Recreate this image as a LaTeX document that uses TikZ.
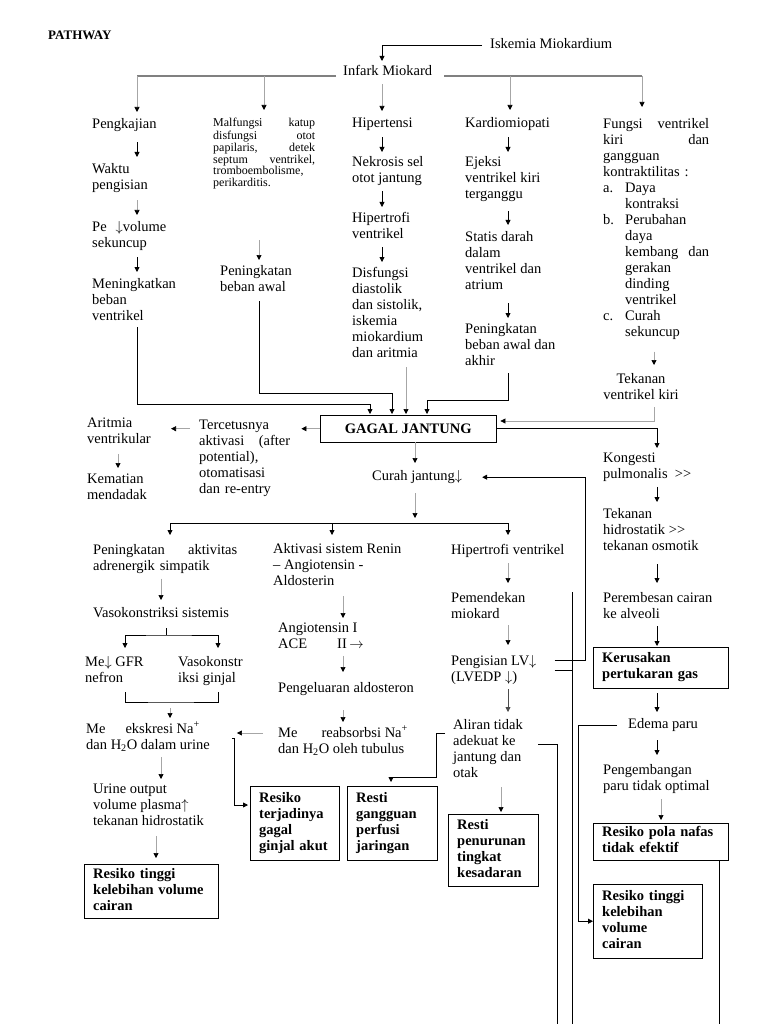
\documentclass[tikz,border=0pt]{standalone}
\usepackage{fontspec}
\setmainfont{Liberation Serif}
\usetikzlibrary{arrows.meta}
\newcommand\spread[3][\hsize]{\leavevmode\hbox to #1{#2\hfill #3}}

\begin{document}
\begin{tikzpicture}[x=1pt,y=-1pt,
	>={Triangle[length=5pt,width=5pt]},
	txt/.style={anchor=north west,inner sep=0pt,align=left,font=\fontsize{14.5}{16}\selectfont,execute at begin node=\strut},
	smalltxt/.style={anchor=north west,inner sep=0pt,align=left,text width=102pt,font=\fontsize{12}{11.7}\selectfont,execute at begin node=\strut},
	diag/.style={draw,anchor=north west,inner xsep=9pt,inner ysep=0pt,align=left,font=\bfseries\fontsize{14.5}{16}\selectfont,execute at begin node=\strut,execute at end node=\strut},
	blk/.style={black,line width=0.8pt,->},
	gry/.style={draw=black!35,line width=0.7pt,-{Triangle[length=5pt,width=5pt,color=black]}},
	wire/.style={black,line width=0.8pt},
	branch/.style={black!50,line width=1.4pt}]
	\useasboundingbox (0,0) rectangle (768,1024);

	% column and junction points
	\coordinate (colA) at (137,0);
	\coordinate (colB) at (264,0);
	\coordinate (colBb) at (259,0);
	\coordinate (colC) at (382,0);
	\coordinate (colD) at (508,0);
	\coordinate (colDt) at (510,0);
	\coordinate (colE) at (642,0);
	\coordinate (colF) at (654,0);
	\coordinate (colG) at (657,0);
	\coordinate (colH) at (118,0);
	\coordinate (colI) at (415,0);
	\coordinate (colJ) at (170,0);
	\coordinate (colK) at (332,0);
	\coordinate (colL) at (585,0);
	\coordinate (colN) at (125,0);
	\coordinate (colO) at (218,0);
	\coordinate (colP) at (234,0);
	\coordinate (colR) at (391,0);
	\coordinate (colS) at (161,0);
	\coordinate (colT) at (156,0);
	\coordinate (colV) at (343,0);
	\coordinate (colW) at (501,0);
	\coordinate (colY) at (661,0);
	\coordinate (colZ) at (578,0);
	\coordinate (gjtop1) at (370,404);
	\coordinate (gjtop2) at (392,393);
	\coordinate (gjtop4) at (427,400);
	\coordinate (gjin3) at (406,0);
	\coordinate (tekin) at (0,421);
	\coordinate (split) at (415,523);
	\coordinate (fork) at (166,635);
	\coordinate (join) at (170,702);
	\coordinate (lvrow) at (0,660);
	\coordinate (ggrow) at (0,805);
	\coordinate (rowR) at (0,733);
	\coordinate (rowA) at (0,733);
	\coordinate (rowB) at (0,744);
	\coordinate (turnQ) at (436,777);
	\coordinate (drainM) at (572,592);
	\coordinate (drainMend) at (572,1024);
	\coordinate (drainS) at (557,1024);
	\coordinate (drainU) at (719,1024);

	% title
	\node[font=\bfseries\fontsize{13}{16}\selectfont,anchor=west,inner sep=0pt] (title) at (48,35) {PATHWAY};
	\node[txt] (iskemia) at (490,37) {Iskemia Miokardium};
	\node[txt] (infark) at (343,64) {Infark Miokard};
	\coordinate (brL) at ([yshift=-4pt]infark.west);
	\coordinate (brR) at ([yshift=-4pt]infark.east);

	% column 1
	\node[txt] (pengkajian) at (92,117) {Pengkajian};
	\node[txt] (waktu) at (92,163) {Waktu\\pengisian};
	\node[txt] (pevol) at (92,221) {Pe\hspace{9pt}$\downarrow$volume\\sekuncup};
	\node[txt] (meningkat) at (92,278) {Meningkatkan\\beban\\ventrikel};
	% column 2
	\node[smalltxt] (malfungsi) at (213,118) {\spread{Malfungsi}{katup}\\\spread{disfungsi}{otot}\\\spread{papilaris,}{detek}\\\spread{septum}{ventrikel,}\\tromboembolisme,\\perikarditis.};
	\node[txt] (pbawal) at (220,265) {Peningkatan\\beban awal};
	% column 3
	\node[txt] (hipertensi) at (352,116) {Hipertensi};
	\node[txt] (nekrosis) at (352,156) {Nekrosis sel\\otot jantung};
	\node[txt] (hipertrofi) at (352,212) {Hipertrofi\\ventrikel};
	\node[txt] (disfungsi) at (352,267) {Disfungsi\\diastolik\\dan sistolik,\\iskemia\\miokardium\\dan aritmia};
	% column 4
	\node[txt] (kardio) at (465,116) {Kardiomiopati};
	\node[txt] (ejeksi) at (465,156) {Ejeksi\\ventrikel kiri\\terganggu};
	\node[txt] (statis) at (465,231) {Statis darah\\dalam\\ventrikel dan\\atrium};
	\node[txt] (pbakhir) at (465,323) {Peningkatan\\beban awal dan\\akhir};
	% column 5
	\node[txt,text width=106pt] (fungsi) at (603,117) {\spread{Fungsi}{ventrikel}\\\spread{kiri}{dan}\\gangguan\\kontraktilitas :\\
		\makebox[22pt][l]{a.}Daya\\\hspace*{22pt}kontraksi\\
		\makebox[22pt][l]{b.}Perubahan\\\hspace*{22pt}daya\\\hspace*{22pt}\spread[84pt]{kembang}{dan}\\\hspace*{22pt}gerakan\\\hspace*{22pt}dinding\\\hspace*{22pt}ventrikel\\
		\makebox[22pt][l]{c.}Curah\\\hspace*{22pt}sekuncup};
	\node[txt,anchor=north,align=center] (tekanan) at (641,373) {Tekanan\\ventrikel kiri};

	% gagal jantung
	\node[draw,anchor=north west,inner sep=0pt,minimum width=176pt,minimum height=27pt,font=\bfseries\fontsize{14.5}{16}\selectfont] (gagal) at (320,415) {GAGAL JANTUNG};
	\node[txt,text width=91pt] (tercetus) at (199,418) {Tercetusnya\\\spread{aktivasi}{(after}\\potential),\\otomatisasi\\dan re-entry};
	\node[txt] (aritmia) at (87,418) {Aritmia\\ventrikular};
	\node[txt] (kematian) at (87,474) {Kematian\\mendadak};
	\node[txt] (curah) at (372,469) {Curah jantung$\downarrow$};

	% right column
	\node[txt] (kongesti) at (603,453) {Kongesti\\pulmonalis\ \ >\kern0pt>};
	\node[txt] (hidro) at (603,508) {Tekanan\\hidrostatik >\kern0pt>\\tekanan osmotik};
	\node[txt] (rembes) at (603,592) {Perembesan cairan\\ke alveoli};
	\node[diag,text width=117pt,minimum height=41pt] (kerusakan) at (593,647) {Kerusakan\\pertukaran gas};
	\node[txt] (edema) at (628,717) {Edema paru};
	\node[txt] (kembang) at (603,764) {Pengembangan\\paru tidak optimal};
	\node[diag,text width=117pt,minimum height=37pt] (pola) at (593,823) {Resiko pola nafas\\tidak efektif};
	\node[diag,text width=91pt,minimum height=74pt] (kelebihanR) at (593,884) {Resiko tinggi\\kelebihan\\volume\\cairan};

	% lower left
	\node[txt,text width=144pt] (adrenergik) at (93,543) {\spread{Peningkatan}{aktivitas}\\adrenergik simpatik};
	\node[txt] (vaso) at (93,606) {Vasokonstriksi sistemis};
	\node[txt] (gfr) at (85,656) {Me$\downarrow$ GFR\\nefron};
	\node[txt] (vasoginjal) at (178,656) {Vasokonstr\\iksi ginjal};
	\node[txt] (ekskresi) at (86,722) {Me\hspace{20pt}ekskresi Na\textsuperscript{+}\\dan H\textsubscript{2}O dalam urine};
	\node[txt] (urine) at (93,784) {Urine output\\volume plasma$\uparrow$\\tekanan hidrostatik};
	\node[diag,text width=116pt,minimum height=54pt] (kelebihanL) at (84,864) {Resiko tinggi\\kelebihan volume\\cairan};
	\node[diag,text width=71pt,minimum height=74pt] (ggal) at (250,786) {Resiko\\terjadinya\\gagal\\ginjal akut};
	\node[diag,text width=72pt,minimum height=74pt] (perfusi) at (347,786) {Resti\\gangguan\\perfusi\\jaringan};
	\node[diag,text width=72pt,minimum height=72pt] (kesadaran) at (448,814) {Resti\\penurunan\\tingkat\\kesadaran};

	% renin column
	\node[txt] (renin) at (273,543) {Aktivasi sistem Renin\\\textendash{} Angiotensin -\\Aldosterin};
	\node[txt] (angio) at (278,623) {Angiotensin I\\ACE\hspace{30pt}II\,$\rightarrow$};
	\node[txt] (aldo) at (278,681) {Pengeluaran aldosteron};
	\node[txt] (reabs) at (278,726) {Me\hspace{24pt}reabsorbsi Na\textsuperscript{+}\\dan H\textsubscript{2}O oleh tubulus};

	% hipertrofi column
	\node[txt] (hipvent) at (451,543) {Hipertrofi ventrikel};
	\node[txt] (pemendekan) at (451,592) {Pemendekan\\miokard};
	\node[txt] (pengisian) at (451,655) {Pengisian LV$\downarrow$\\(LVEDP $\downarrow$)};
	\node[txt] (aliran) at (453,719) {Aliran tidak\\adekuat ke\\jantung dan\\otak};

	% top links
	\draw[wire,->,shorten <=8pt,shorten >=3pt] (iskemia.west) -| (infark.north -| colC);
	\draw[branch,shorten <=7pt] (brL) -- (brL -| colA);
	\draw[branch,shorten <=12pt] (brR) -- (brR -| colE);
	\draw[gry,shorten >=5pt] (brL -| colA) -- (pengkajian.north -| colA);
	\draw[gry,shorten >=8pt] (brL -| colB) -- (malfungsi.north -| colB);
	\draw[gry,shorten <=4pt,shorten >=5pt] (infark.south -| colC) -- (hipertensi.north -| colC);
	\draw[gry,shorten >=6pt] (brR -| colDt) -- (kardio.north -| colDt);
	\draw[gry,shorten >=10pt] (brR -| colE) -- (fungsi.north -| colE);

	% column 1 links
	\draw[blk,shorten <=9pt,shorten >=6pt] (pengkajian.south -| colA) -- (waktu.north -| colA);
	\draw[gry,shorten <=6pt,shorten >=6pt] (waktu.south -| colA) -- (pevol.north -| colA);
	\draw[blk,shorten <=5pt,shorten >=6pt] (pevol.south -| colA) -- (meningkat.north -| colA);
	\draw[blk,shorten <=2pt,shorten >=1pt] (meningkat.south -| colA) |- (gjtop1) -- (gagal.north -| gjtop1);
	% column 2 links
	\draw[gry,shorten <=51pt,shorten >=5pt] (malfungsi.south -| colBb) -- (pbawal.north -| colBb);
	\draw[blk,shorten <=5pt,shorten >=1pt] (pbawal.south -| colBb) |- (gjtop2) -- (gagal.north -| gjtop2);
	% column 3 links
	\draw[blk,shorten <=5pt,shorten >=4pt] (hipertensi.south -| colC) -- (nekrosis.north -| colC);
	\draw[blk,shorten <=4pt,shorten >=5pt] (nekrosis.south -| colC) -- (hipertrofi.north -| colC);
	\draw[blk,shorten <=4pt,shorten >=5pt] (hipertrofi.south -| colC) -- (disfungsi.north -| colC);
	\draw[gry,shorten <=5pt,shorten >=1pt] (disfungsi.south -| gjin3) -- (gagal.north -| gjin3);
	% column 4 links
	\draw[blk,shorten <=5pt,shorten >=4pt] (kardio.south -| colD) -- (ejeksi.north -| colD);
	\draw[blk,shorten <=8pt,shorten >=6pt] (ejeksi.south -| colD) -- (statis.north -| colD);
	\draw[blk,shorten <=9pt,shorten >=5pt] (statis.south -| colD) -- (pbakhir.north -| colD);
	\draw[blk,shorten <=3pt,shorten >=1pt] (pbakhir.south -| colD) |- (gjtop4) -- (gagal.north -| gjtop4);
	% column 5 links
	\draw[gry,shorten <=12pt,shorten >=8pt] (fungsi.south -| colF) -- (tekanan.north -| colF);
	\draw[gry,shorten <=3pt,shorten >=4pt] (tekanan.south -| colF) |- (gagal.east |- tekin);
	\draw[blk,shorten >=5pt] (gagal.east) -| (kongesti.north -| colG);

	% gagal jantung links
	\draw[gry,shorten >=11pt] (gagal.west) -- (gagal.west -| tercetus.east);
	\draw[gry,shorten <=9pt,shorten >=20pt] (gagal.west -| tercetus.west) -- (gagal.west -| aritmia.east);
	\draw[gry,shorten <=5pt,shorten >=6pt] (aritmia.south -| colH) -- (kematian.north -| colH);
	\draw[gry,shorten >=6pt] (gagal.south -| colI) -- (curah.north -| colI);
	\draw[gry,shorten <=8pt,shorten >=5pt] (curah.south -| colI) -- (split);
	\draw[wire] (split -| colJ) -- (split -| colD);
	\draw[blk,shorten >=8pt] (split -| colJ) -- (adrenergik.north -| colJ);
	\draw[blk,shorten >=8pt] (split -| colK) -- (renin.north -| colK);
	\draw[blk,shorten >=8pt] (split -| colD) -- (hipvent.north -| colD);
	\draw[wire,->,shorten <=18pt,shorten >=20pt] (pengisian.east |- lvrow) -| (colL |- curah.east) -- (curah.east);
	\draw[wire,shorten <=18pt] (pengisian.east) -- (pengisian.east -| drainM);
	\draw[wire] (drainM) -- (drainMend);

	% adrenergik links
	\draw[gry,shorten <=5pt,shorten >=6pt] (adrenergik.south -| colS) -- (vaso.north -| colS);
	\draw[wire,shorten <=6pt] (vaso.south -| fork) -- (fork);
	\draw[wire,<->,shorten <=8pt,shorten >=8pt] (gfr.north -| colN) |- (fork) -| (vasoginjal.north -| colO);
	\draw[wire,shorten <=5pt,shorten >=5pt] (gfr.south -| colN) |- (join) -| (vasoginjal.south -| colO);
	\draw[gry,shorten <=6pt,shorten >=4pt] (join) -- (ekskresi.north -| join);
	\draw[gry,shorten <=3pt,shorten >=5pt] (ekskresi.south -| colS) -- (urine.north -| colS);
	\draw[gry,shorten <=5pt,shorten >=6pt] (urine.south -| colT) -- (kelebihanL.north -| colT);
	\draw[wire,->,shorten <=22pt,shorten >=2pt] (ekskresi.east) -| (colP |- ggrow) -- (ggal.west |- ggrow);

	% renin links
	\draw[gry,shorten <=6pt,shorten >=5pt] (renin.south -| colV) -- (angio.north -| colV);
	\draw[gry,shorten <=2pt,shorten >=9pt] (angio.south -| colV) -- (aldo.north -| colV);
	\draw[gry,shorten <=13pt,shorten >=4pt] (aldo.south -| colV) -- (reabs.north -| colV);
	\draw[gry,shorten <=15pt,shorten >=27pt] (reabs.west |- rowR) -- (ekskresi.east |- rowR);

	% hipertrofi links
	\draw[gry,shorten <=4pt,shorten >=9pt] (hipvent.south -| colD) -- (pemendekan.north -| colD);
	\draw[gry,shorten <=2pt,shorten >=10pt] (pemendekan.south -| colD) -- (pengisian.north -| colD);
	\draw[blk,black!70,shorten <=3pt,shorten >=7pt] (pengisian.south -| colD) -- (aliran.north -| colD);
	\draw[gry,shorten <=5pt,shorten >=2pt] (aliran.south -| colW) -- (kesadaran.north -| colW);
	\draw[blk,shorten <=8pt,shorten >=4pt] (aliran.west |- rowA) -| (turnQ) -| (perfusi.north -| colR);
	\draw[wire,shorten <=15pt] (aliran.east |- rowB) -| (drainS);

	% right column links
	\draw[blk,shorten <=3pt,shorten >=6pt] (kongesti.south -| colG) -- (hidro.north -| colG);
	\draw[blk,shorten <=9pt,shorten >=9pt] (hidro.south -| colG) -- (rembes.north -| colG);
	\draw[blk,shorten <=3pt,shorten >=1pt] (rembes.south -| colG) -- (kerusakan.north -| colG);
	\draw[blk,shorten <=5pt,shorten >=5pt] (kerusakan.south -| colG) -- (edema.north -| colG);
	\draw[blk,shorten <=7pt,shorten >=9pt] (edema.south -| colG) -- (kembang.north -| colG);
	\draw[gry,shorten <=4pt,shorten >=3pt] (kembang.south -| colY) -- (pola.north -| colY);
	\draw[wire,->,shorten <=11pt] (edema.west) -| (colZ |- kelebihanR.west) -- (kelebihanR.west);
	\draw[wire] (pola.south -| drainU) -- (drainU);
\end{tikzpicture}
\end{document}
